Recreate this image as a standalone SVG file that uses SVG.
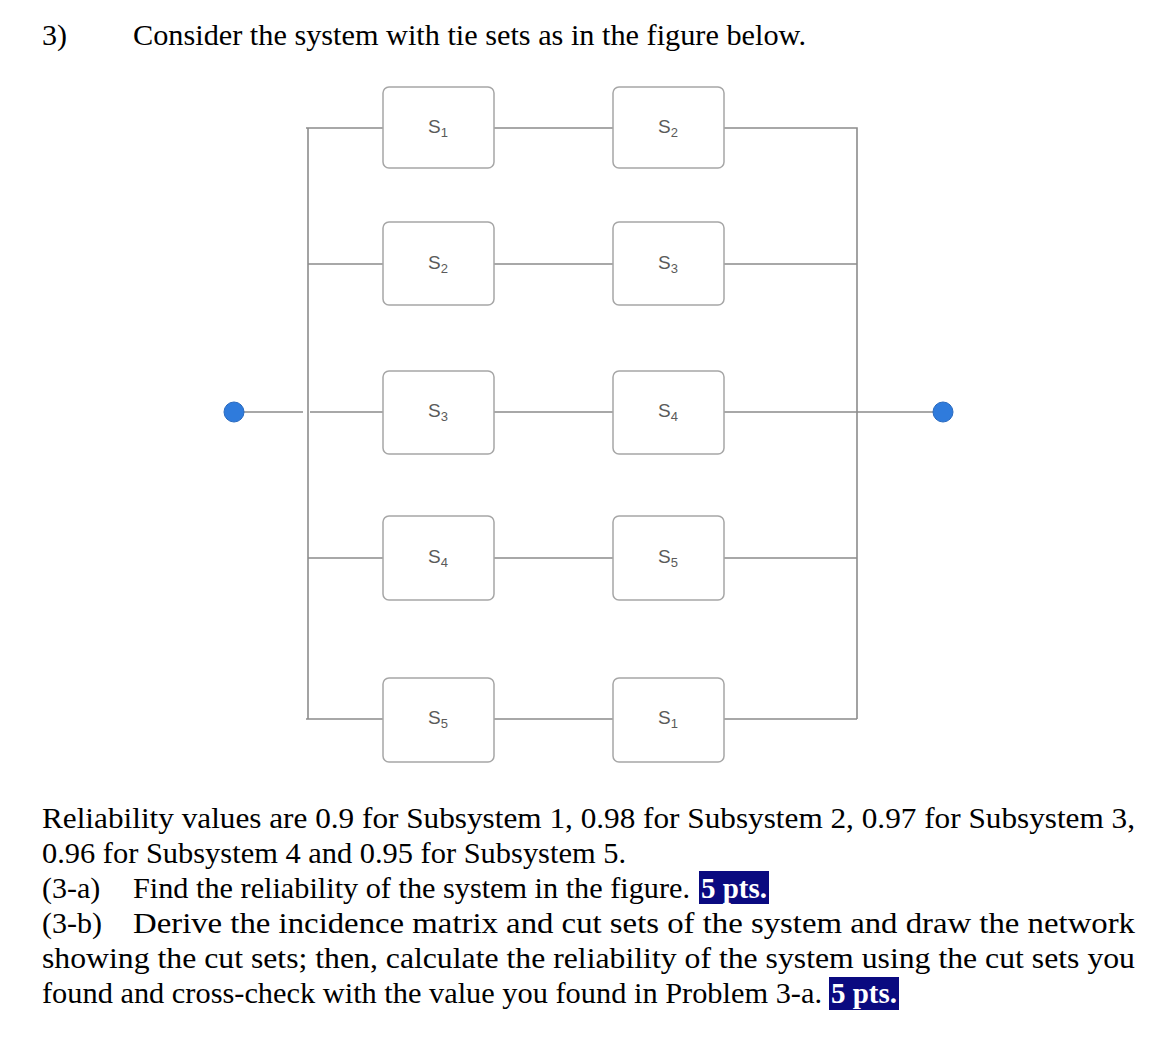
<svg xmlns="http://www.w3.org/2000/svg" width="1170" height="1056" viewBox="0 0 1170 1056">
<style>
.t{font-family:"Liberation Serif","Times New Roman",serif;font-size:30px;fill:#000}
.box{fill:#fff;stroke:#a6a6a6;stroke-width:1.5}
.ln{stroke:#8c8c8c;stroke-width:1.6;fill:none}
.lb{font-family:"Liberation Sans",Arial,sans-serif;font-size:19px;fill:#5a5a5a;text-anchor:middle}
.sub{font-size:13px}
.hl{fill:#0a0a80}
.w{fill:#fff;font-weight:bold}
</style>
<rect width="1170" height="1056" fill="#fff"/>
<text class="t" x="42" y="45">3)</text>
<text class="t" x="133" y="45" textLength="673" lengthAdjust="spacingAndGlyphs">Consider the system with tie sets as in the figure below.</text>

<g id="connectors">
<path class="ln" d="M306 128H383M494 128H613M724 128H857V719"/>
<path class="ln" d="M308 128V719"/>
<path class="ln" d="M308 264H383M494 264H613M724 264H857"/>
<path class="ln" d="M234 412H303M310 412H383M494 412H613M724 412H943"/>
<path class="ln" d="M308 558H383M494 558H613M724 558H857"/>
<path class="ln" d="M306 719H383M494 719H613M724 719H857"/>
</g>
<g id="in"><circle cx="234" cy="412" r="10" fill="#2f7bdc" stroke="#2a6bc0" stroke-width="1"/></g>
<g id="out"><circle cx="943" cy="412" r="10" fill="#2f7bdc" stroke="#2a6bc0" stroke-width="1"/></g>

<g id="r1a"><rect class="box" x="383" y="87" width="111" height="81" rx="6"/><text class="lb" x="438" y="133">S<tspan class="sub" dy="4">1</tspan></text></g>
<g id="r1b"><rect class="box" x="613" y="87" width="111" height="81" rx="6"/><text class="lb" x="668" y="133">S<tspan class="sub" dy="4">2</tspan></text></g>
<g id="r2a"><rect class="box" x="383" y="222" width="111" height="83" rx="6"/><text class="lb" x="438" y="269">S<tspan class="sub" dy="4">2</tspan></text></g>
<g id="r2b"><rect class="box" x="613" y="222" width="111" height="83" rx="6"/><text class="lb" x="668" y="269">S<tspan class="sub" dy="4">3</tspan></text></g>
<g id="r3a"><rect class="box" x="383" y="371" width="111" height="83" rx="6"/><text class="lb" x="438" y="417">S<tspan class="sub" dy="4">3</tspan></text></g>
<g id="r3b"><rect class="box" x="613" y="371" width="111" height="83" rx="6"/><text class="lb" x="668" y="417">S<tspan class="sub" dy="4">4</tspan></text></g>
<g id="r4a"><rect class="box" x="383" y="516" width="111" height="84" rx="6"/><text class="lb" x="438" y="563">S<tspan class="sub" dy="4">4</tspan></text></g>
<g id="r4b"><rect class="box" x="613" y="516" width="111" height="84" rx="6"/><text class="lb" x="668" y="563">S<tspan class="sub" dy="4">5</tspan></text></g>
<g id="r5a"><rect class="box" x="383" y="678" width="111" height="84" rx="6"/><text class="lb" x="438" y="724">S<tspan class="sub" dy="4">5</tspan></text></g>
<g id="r5b"><rect class="box" x="613" y="678" width="111" height="84" rx="6"/><text class="lb" x="668" y="724">S<tspan class="sub" dy="4">1</tspan></text></g>

<text class="t" x="42" y="828" textLength="1093" lengthAdjust="spacingAndGlyphs">Reliability values are 0.9 for Subsystem 1, 0.98 for Subsystem 2, 0.97 for Subsystem 3,</text>
<text class="t" x="42" y="863" textLength="584" lengthAdjust="spacingAndGlyphs">0.96 for Subsystem 4 and 0.95 for Subsystem 5.</text>
<text class="t" x="42" y="898">(3-a)</text>
<text class="t" x="133" y="898" textLength="557" lengthAdjust="spacingAndGlyphs">Find the reliability of the system in the figure.</text>
<rect class="hl" x="699" y="871" width="70" height="33"/>
<text class="t w" x="701" y="898" textLength="66" lengthAdjust="spacingAndGlyphs">5 pts.</text>
<text class="t" x="42" y="933">(3-b)</text>
<text class="t" x="133" y="933" textLength="1002" lengthAdjust="spacingAndGlyphs">Derive the incidence matrix and cut sets of the system and draw the network</text>
<text class="t" x="42" y="968" textLength="1093" lengthAdjust="spacingAndGlyphs">showing the cut sets; then, calculate the reliability of the system using the cut sets you</text>
<text class="t" x="42" y="1003" textLength="780" lengthAdjust="spacingAndGlyphs">found and cross-check with the value you found in Problem 3-a.</text>
<rect class="hl" x="829" y="977" width="70" height="33"/>
<text class="t w" x="831" y="1003" textLength="66" lengthAdjust="spacingAndGlyphs">5 pts.</text>
</svg>
